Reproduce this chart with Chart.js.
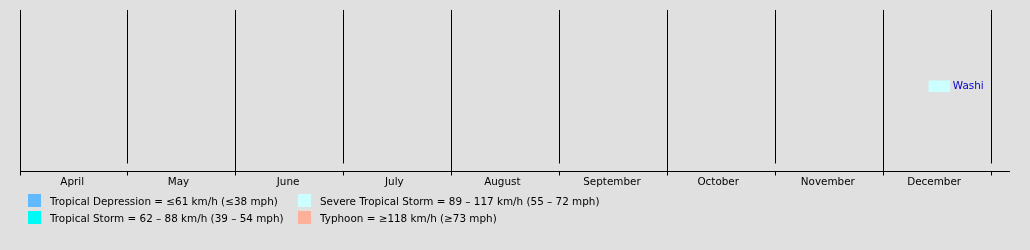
<!DOCTYPE html>
<html>
<head>
<meta charset="utf-8">
<script src="https://cdn.jsdelivr.net/npm/chart.js@4.4.1/dist/chart.umd.min.js"></script>
<style>
  html, body { margin: 0; padding: 0; background: #e0e0e0; }
  #wrap { position: relative; width: 1030px; height: 250px; }
  #legend {
    position: absolute; left: 28px; top: 194px;
    display: grid; grid-auto-flow: column;
    grid-template-columns: 270px auto; grid-template-rows: 17px 17px;
    font: 10.4px "DejaVu Sans"; color: #000;
  }
  .item { display: flex; align-items: center; height: 13px; white-space: nowrap; }
  .sw { width: 13px; height: 13px; margin-right: 9px; flex: none; }
</style>
</head>
<body>
<div id="wrap">
  <canvas id="timeline" width="1030" height="250"></canvas>
  <div id="legend"></div>
</div>
<script>
// period shown on the time axis
const PERIOD_START = '2011-04-01';
const PERIOD_END = '2012-01-06';

// month boundaries and the labels between them
const monthStarts = ['2011-04-01', '2011-05-01', '2011-06-01', '2011-07-01', '2011-08-01',
  '2011-09-01', '2011-10-01', '2011-11-01', '2011-12-01', '2012-01-01'];
const monthLabels = ['April', 'May', 'June', 'July', 'August', 'September', 'October', 'November', 'December'];

// storms
const storms = ['Washi'];
const stormStart = ['2011-12-14'];
const stormEnd = ['2011-12-20'];
const stormCategory = ['STS'];

// intensity categories (legend)
const categoryIds = ['TD', 'TS', 'STS', 'TY'];
const categoryNames = [
  'Tropical Depression = ≤61 km/h (≤38 mph)',
  'Tropical Storm = 62 – 88 km/h (39 – 54 mph)',
  'Severe Tropical Storm = 89 – 117 km/h (55 – 72 mph)',
  'Typhoon = ≥118 km/h (≥73 mph)'
];
const categoryColors = ['#61baff', '#00faf5', '#ccffff', '#fcb09a'];

const FONT = { family: 'DejaVu Sans', size: 10.4 };

// every month gets the same width on the axis: position = months since start + fraction of month
const start = new Date(PERIOD_START);
function posOf(s, dayOffset = 0) {
  const d = new Date(s);
  const y = d.getUTCFullYear(), m = d.getUTCMonth();
  const days = new Date(Date.UTC(y, m + 1, 0)).getUTCDate();
  const months = (y - start.getUTCFullYear()) * 12 + (m - start.getUTCMonth());
  return months + (d.getUTCDate() - 1 + dayOffset) / days;
}
const colorOf = id => categoryColors[categoryIds.indexOf(id)];

// tick list: month boundary, then mid-month (label)
const tickList = [];
monthStarts.forEach((m, i) => {
  tickList.push({ value: posOf(m), boundary: true, label: '' });
  if (i < monthLabels.length) tickList.push({ value: posOf(m, 14.5), boundary: false, label: monthLabels[i] });
});

// vertical month lines: every second one reaches the axis
const monthLines = {
  id: 'monthLines',
  beforeDatasetsDraw(chart, args, opts) {
    const { ctx, chartArea, scales: { x } } = chart;
    ctx.save();
    ctx.strokeStyle = opts.color;
    ctx.lineWidth = 1;
    monthStarts.forEach((m, i) => {
      const px = Math.floor(x.getPixelForValue(posOf(m))) + 0.5;
      const bottom = i % 2 === 0 ? chartArea.bottom : chartArea.bottom - opts.minorGap;
      ctx.beginPath();
      ctx.moveTo(px, chartArea.top + opts.topInset);
      ctx.lineTo(px, bottom);
      ctx.stroke();
    });
    ctx.restore();
  }
};

// storm names to the right of the bars
const barLabels = {
  id: 'barLabels',
  afterDatasetsDraw(chart, args, opts) {
    const { ctx } = chart;
    ctx.save();
    ctx.font = FONT.size + 'px "' + FONT.family + '"';
    ctx.fillStyle = opts.color;
    ctx.textBaseline = 'middle';
    chart.getDatasetMeta(0).data.forEach((bar, i) => {
      ctx.fillText(storms[i], bar.x + opts.gap, bar.y);
    });
    ctx.restore();
  }
};

new Chart(document.getElementById('timeline'), {
  type: 'bar',
  data: {
    labels: storms,
    datasets: [{
      data: storms.map((s, i) => [posOf(stormStart[i]), posOf(stormEnd[i])]),
      backgroundColor: stormCategory.map(colorOf),
      borderWidth: 0,
      barThickness: 11
    }]
  },
  options: {
    indexAxis: 'y',
    responsive: false,
    animation: false,
    layout: { padding: { left: 20, right: 21, top: 1, bottom: 60 } },
    scales: {
      x: {
        type: 'linear',
        min: 0,
        max: posOf(PERIOD_END),
        afterBuildTicks: scale => { scale.ticks = tickList.map(t => ({ value: t.value })); },
        border: { display: true, color: '#000', width: 1 },
        grid: {
          drawOnChartArea: false,
          tickLength: 4,
          tickColor: ctx => (tickList[ctx.index] && tickList[ctx.index].boundary) ? '#000' : 'rgba(0,0,0,0)'
        },
        ticks: {
          autoSkip: false,
          maxRotation: 0,
          padding: 1,
          color: '#000',
          font: FONT,
          callback: (v, i) => tickList[i].label
        }
      },
      y: { type: 'category', display: false, offset: true }
    },
    plugins: {
      legend: { display: false },
      tooltip: { enabled: false },
      monthLines: { color: '#000', topInset: 9, minorGap: 8 },
      barLabels: { color: '#0000cc', gap: 3 }
    }
  },
  plugins: [monthLines, barLabels]
});

// legend, two columns filled top to bottom
const legend = document.getElementById('legend');
categoryIds.forEach((id, i) => {
  const item = document.createElement('div');
  item.className = 'item';
  item.innerHTML = `<span class="sw" style="background:${categoryColors[i]}"></span><span>${categoryNames[i]}</span>`;
  legend.appendChild(item);
});
</script>
</body>
</html>
